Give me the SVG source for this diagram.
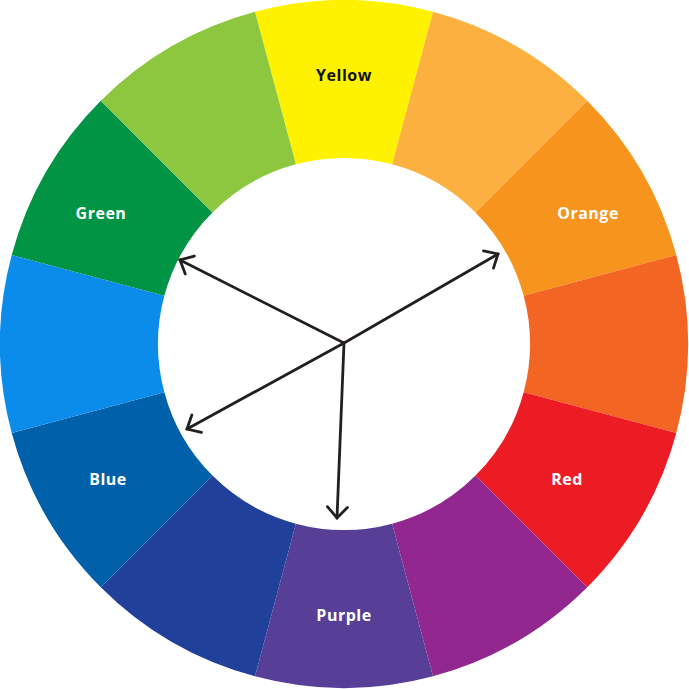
<svg xmlns="http://www.w3.org/2000/svg" width="689" height="689" viewBox="0 0 689 689">
<style>
.lbl{font-family:"Open Sans","Liberation Sans",sans-serif;font-weight:700;font-size:16px;letter-spacing:0.5px;text-anchor:middle;dominant-baseline:central;fill:#fff}
.dark{fill:#111}
.arr{stroke:#231F20;stroke-width:2.8;fill:none;stroke-linecap:round;marker-end:url(#chev)}
</style>
<defs>
<marker id="chev" markerUnits="userSpaceOnUse" markerWidth="30" markerHeight="30" viewBox="-15 -15 30 30" refX="0" refY="0" orient="auto">
<path d="M-11,-10 L0,0 L-11,10" fill="none" stroke="#231F20" stroke-width="2.8" stroke-linecap="round" stroke-linejoin="miter"/>
</marker>
</defs>
<rect width="689" height="689" fill="#fff"/>
<g id="wheel">
<g id="seg-yellow"><path d="M254.97,11.72 A344,344 0 0 1 433.03,11.72 L392.14,164.34 A186,186 0 0 0 295.86,164.34 Z" fill="#FFF200"/><text class="lbl dark" x="344" y="75">Yellow</text></g>
<g id="seg-yellow-orange"><path d="M433.03,11.72 A344,344 0 0 1 587.24,100.76 L475.52,212.48 A186,186 0 0 0 392.14,164.34 Z" fill="#FBB040"/></g>
<g id="seg-orange"><path d="M587.24,100.76 A344,344 0 0 1 676.28,254.97 L523.66,295.86 A186,186 0 0 0 475.52,212.48 Z" fill="#F7941D"/><text class="lbl" x="588" y="213">Orange</text></g>
<g id="seg-red-orange"><path d="M676.28,254.97 A344,344 0 0 1 676.28,433.03 L523.66,392.14 A186,186 0 0 0 523.66,295.86 Z" fill="#F26522"/></g>
<g id="seg-red"><path d="M676.28,433.03 A344,344 0 0 1 587.24,587.24 L475.52,475.52 A186,186 0 0 0 523.66,392.14 Z" fill="#ED1C24"/><text class="lbl" x="567" y="479">Red</text></g>
<g id="seg-red-purple"><path d="M587.24,587.24 A344,344 0 0 1 433.03,676.28 L392.14,523.66 A186,186 0 0 0 475.52,475.52 Z" fill="#92278F"/></g>
<g id="seg-purple"><path d="M433.03,676.28 A344,344 0 0 1 254.97,676.28 L295.86,523.66 A186,186 0 0 0 392.14,523.66 Z" fill="#573F98"/><text class="lbl" x="344" y="615">Purple</text></g>
<g id="seg-blue-purple"><path d="M254.97,676.28 A344,344 0 0 1 100.76,587.24 L212.48,475.52 A186,186 0 0 0 295.86,523.66 Z" fill="#21409A"/></g>
<g id="seg-blue"><path d="M100.76,587.24 A344,344 0 0 1 11.72,433.03 L164.34,392.14 A186,186 0 0 0 212.48,475.52 Z" fill="#0060A9"/><text class="lbl" x="108" y="479">Blue</text></g>
<g id="seg-light-blue"><path d="M11.72,433.03 A344,344 0 0 1 11.72,254.97 L164.34,295.86 A186,186 0 0 0 164.34,392.14 Z" fill="#0B8CEB"/></g>
<g id="seg-green"><path d="M11.72,254.97 A344,344 0 0 1 100.76,100.76 L212.48,212.48 A186,186 0 0 0 164.34,295.86 Z" fill="#009444"/><text class="lbl" x="101" y="213">Green</text></g>
<g id="seg-yellow-green"><path d="M100.76,100.76 A344,344 0 0 1 254.97,11.72 L295.86,164.34 A186,186 0 0 0 212.48,212.48 Z" fill="#8DC63F"/></g>
</g>
<g id="connectors">
<line class="arr" x1="344" y1="343" x2="498" y2="254"/>
<line class="arr" x1="344" y1="343" x2="180" y2="260"/>
<line class="arr" x1="344" y1="343" x2="187" y2="429"/>
<line class="arr" x1="344" y1="343" x2="337" y2="518"/>
</g>
</svg>
